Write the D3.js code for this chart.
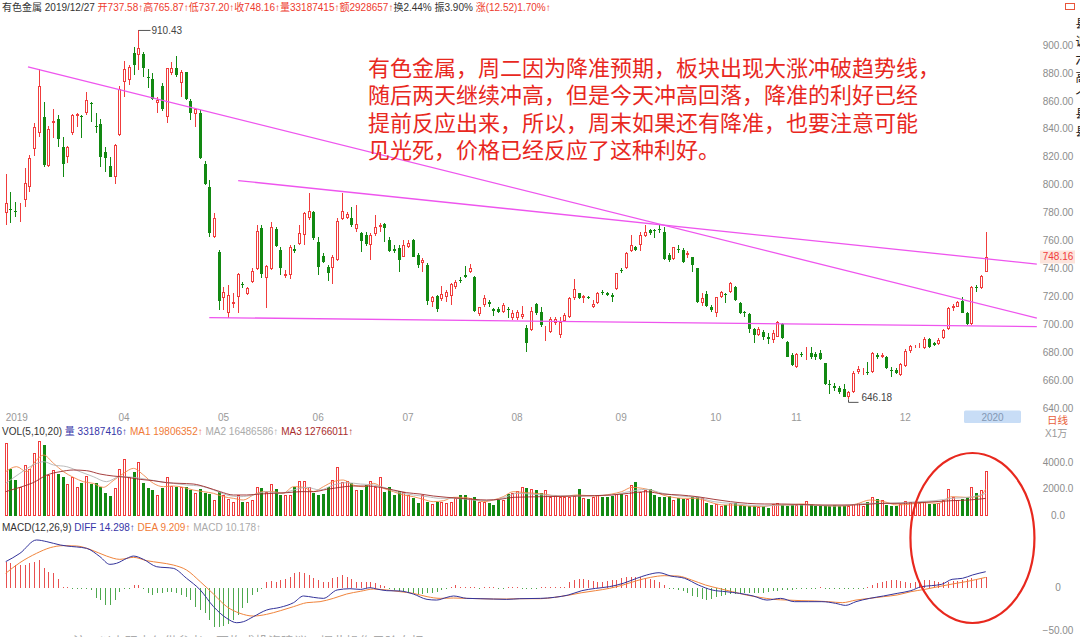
<!DOCTYPE html>
<html><head><meta charset="utf-8">
<script src="https://cdn.jsdelivr.net/npm/d3@7"></script>
<style>body{margin:0;background:#fff}svg{display:block}</style>
</head><body>
<svg id="chart" width="1080" height="637"></svg>
<script>
// ---------------- DATA ----------------
// daily candles [open, high, low, close], 2019-02-25 .. 2019-12-27
const candles = [
[779.9,807.5,771.0,786.5],[782.5,794.9,772.5,781.8],[781.3,787.7,777.0,780.6],[783.9,786.8,773.4,784.6],
[788.9,811.9,784.1,800.9],[798.5,821.2,794.9,818.8],[825.3,844.1,820.5,841.4],[837.2,882.6,834.3,870.8],
[848.6,859.4,812.8,814.0],[813.5,841.9,812.8,839.6],[843.9,853.9,833.1,845.5],[846.9,849.8,827.1,832.6],
[826.7,834.3,805.6,814.7],[820.0,827.6,815.2,827.1],[836.7,850.3,835.5,849.8],[849.1,851.0,841.4,850.3],
[849.1,849.8,833.1,848.6],[851.0,866.5,849.8,860.6],[858.2,858.9,845.0,857.5],[841.9,851.0,836.7,841.4],
[843.4,846.7,812.8,819.5],[823.5,827.1,809.2,818.8],[813.5,820.0,805.2,805.6],[805.2,829.0,800.2,828.1],
[835.5,870.8,834.8,868.5],[873.7,888.8,862.5,882.6],[874.9,885.6,871.3,884.4],[894.0,898.8,878.5,885.6],
[892.8,910.43,882.1,897.6],[893.5,895.2,877.3,883.3],[876.8,882.6,869.0,876.1],[875.4,879.7,860.6,861.3],
[858.2,862.9,851.5,860.6],[870.6,872.5,852.9,853.9],[848.2,883.7,843.9,883.3],[879.7,888.0,878.5,883.3],
[883.3,892.1,876.8,878.5],[873.0,882.1,862.9,880.8],[880.4,880.8,860.6,861.1],[859.9,861.1,846.2,851.0],
[850.5,854.6,841.4,853.9],[851.0,853.4,818.5,818.8],[814.7,817.1,799.7,800.4],[798.5,803.3,762.7,765.5],
[762.2,779.9,762.0,776.3],[751.9,753.1,710.2,716.8],[718.5,726.8,710.2,723.3],[708.2,728.1,704.2,720.9],
[714.5,722.1,711.4,715.7],[719.7,736.4,708.2,735.7],[728.6,730.4,725.7,727.8],[721.6,726.8,720.9,725.7],
[730.4,740.0,729.7,738.3],[739.3,771.0,738.8,767.0],[768.7,771.0,732.9,735.9],[732.9,742.4,711.4,741.7],
[739.3,773.4,738.8,769.4],[768.0,769.8,755.5,756.2],[753.1,755.5,735.2,740.0],[734.7,738.8,732.9,735.7],
[735.2,756.7,732.2,755.1],[753.8,756.7,750.8,752.4],[757.2,771.0,756.7,765.1],[763.9,780.6,756.7,779.4],
[775.8,793.8,774.6,781.3],[780.1,781.3,760.3,761.5],[759.1,762.7,735.2,740.7],[748.8,750.8,743.6,744.7],
[741.2,742.4,731.1,736.4],[740.0,749.5,728.8,747.9],[746.0,775.8,745.5,774.1],[775.1,794.2,774.6,781.3],
[776.3,780.6,775.1,778.7],[775.8,784.1,769.8,771.0],[768.0,785.4,766.2,771.8],[765.5,766.2,751.9,759.6],
[763.9,766.2,756.2,757.4],[756.7,765.1,746.0,763.9],[764.6,778.2,763.2,769.4],[769.4,772.3,766.2,771.0],
[771.8,772.3,759.1,768.7],[760.3,762.2,751.9,752.6],[753.6,756.7,751.2,752.6],[754.3,756.7,737.6,746.0],
[748.3,760.3,747.9,756.7],[755.5,760.3,754.8,757.9],[760.3,760.8,747.9,748.3],[749.5,750.8,740.0,742.4],
[743.6,747.2,737.6,746.0],[742.4,743.6,713.7,716.8],[716.1,720.2,712.5,719.3],[720.2,720.9,708.9,710.7],
[717.8,727.3,716.8,721.6],[719.7,724.5,716.1,723.3],[720.2,729.3,713.7,728.8],[726.4,731.6,725.0,730.4],
[731.6,734.0,729.3,730.7],[735.2,741.7,732.9,733.6],[737.6,743.1,736.9,740.0],[734.0,734.5,708.9,709.7],
[707.3,712.5,705.9,712.1],[713.7,720.9,712.5,718.5],[716.1,717.3,712.5,714.5],[710.7,711.4,705.9,709.7],
[710.7,712.1,707.8,708.7],[708.9,714.9,708.2,713.7],[710.7,712.5,704.2,710.2],[704.2,710.2,703.0,707.8],
[704.2,710.2,703.0,708.9],[704.9,713.0,703.5,707.3],[697.0,699.4,680.3,686.7],[695.8,712.5,695.3,709.4],
[714.5,715.4,706.6,707.8],[708.9,712.5,698.2,699.4],[697.0,698.7,688.2,698.2],[694.6,704.9,693.9,703.5],
[701.1,705.4,699.4,703.5],[692.3,705.4,689.9,701.8],[702.5,707.8,701.8,706.6],[704.9,719.7,704.2,718.5],
[718.5,732.1,717.3,725.0],[722.1,722.5,717.8,718.5],[718.5,720.9,715.4,720.2],[719.7,720.2,717.8,718.5],
[712.1,717.3,711.4,714.5],[714.9,723.3,714.5,722.1],[723.3,724.5,720.9,722.6],[722.1,723.3,720.2,720.9],
[720.9,722.1,716.1,719.3],[725.0,736.9,724.5,736.4],[738.8,740.0,736.4,738.1],[740.0,751.9,739.3,750.8],
[752.6,763.9,751.9,756.7],[755.5,756.0,752.6,753.1],[756.7,766.2,752.6,763.9],[763.2,771.0,762.2,766.2],
[767.5,768.0,763.9,765.1],[767.5,768.0,761.5,766.5],[768.0,771.0,765.5,767.5],[766.2,769.8,746.0,746.5],
[749.5,750.8,744.8,746.0],[746.5,755.5,746.0,755.1],[753.6,756.7,750.8,753.1],[753.1,754.3,743.6,744.7],
[749.5,752.6,747.2,751.2],[747.9,748.3,737.6,742.4],[740.0,740.2,715.4,716.1],[715.4,722.1,713.0,718.5],
[721.6,724.0,712.1,713.0],[712.1,713.7,708.9,710.2],[708.2,719.7,705.4,719.3],[719.7,724.0,718.5,723.3],
[721.6,722.5,715.0,720.9],[723.3,730.4,722.6,729.3],[726.4,727.3,716.8,717.3],[714.9,716.1,707.3,708.2],
[708.9,709.7,705.4,707.8],[707.3,707.8,693.5,696.3],[696.3,697.0,686.3,692.3],[692.3,697.8,691.5,696.3],
[694.6,695.8,688.7,690.6],[691.0,693.5,685.8,689.2],[688.7,695.8,686.7,693.5],[691.0,702.3,690.6,701.8],
[700.1,700.6,689.6,689.9],[687.5,688.2,676.3,676.7],[677.9,679.1,670.0,670.8],[669.6,679.6,668.4,678.6],
[678.6,680.3,676.7,677.9],[679.1,683.9,674.3,680.3],[679.6,683.4,674.8,676.3],[678.6,680.3,674.3,676.3],
[679.6,681.5,674.3,674.8],[672.0,672.4,656.4,657.2],[656.9,660.0,650.0,656.2],[655.9,657.6,652.3,654.5],
[654.1,655.7,650.0,651.6],[653.4,657.1,647.6,648.1],[647.6,652.3,646.18,651.6],[651.6,666.7,650.9,665.3],
[666.0,670.0,664.3,667.7],[665.3,668.6,663.6,666.0],[666.0,673.1,663.6,665.3],[666.0,680.3,665.3,679.1],
[677.9,679.1,674.8,676.3],[676.3,679.6,675.5,677.9],[676.3,677.2,667.7,668.4],[667.2,669.6,662.4,666.5],
[667.2,668.4,664.3,664.8],[663.6,672.0,662.9,671.5],[670.1,682.0,669.6,681.0],[681.0,685.1,679.1,684.4],
[683.9,685.1,682.7,684.4],[684.4,686.5,682.9,685.1],[682.7,690.6,682.0,689.2],[689.2,689.9,682.7,683.9],
[686.3,687.5,684.4,685.1],[685.8,689.9,685.1,688.7],[689.9,696.3,689.2,695.8],[696.3,712.1,695.8,711.4],
[711.4,714.5,709.7,713.0],[712.5,716.8,712.1,716.1],[716.8,719.7,707.8,708.2],[707.8,708.9,699.4,700.1],
[700.1,727.3,699.4,726.4],[726.8,728.1,723.3,726.1],[725.7,735.2,725.2,734.5],[737.58,765.87,737.20,748.16]
];
// volume, unit 万股
const volumes = [
5394,3451,2654,2106,3775,3451,4646,5593,5270,3027,3401,3102,2853,2355,2853,2106,2404,2952,2355,2404,
2155,1657,1458,2031,3451,4198,2853,3276,4024,2454,2081,1906,1533,2031,2853,2205,2155,2106,2155,1906,
1657,1956,1657,1607,1159,1782,1533,1209,1034,1533,1034,1034,1159,2106,2031,1782,2355,1956,1533,1533,
1533,2106,2604,2604,2106,1657,1533,1607,2106,2654,3600,2529,2604,2404,1906,1906,2280,2604,2155,2853,
1782,2106,1533,1857,1782,1533,1284,910,1533,1034,860,1034,1034,960,1034,1284,1533,1533,1284,1358,
1034,1034,910,785,1159,1159,1582,1657,1857,2155,2031,2000,1900,1700,
1906,1408,1533,1408,1358,1408,1458,1956,1333,1209,1358,1533,1358,1358,1458,1582,1607,1533,2280,2529,
1782,1906,1956,1533,1358,1408,1458,1159,1284,1209,1209,1408,1408,1284,910,785,860,711,785,910,
910,785,711,711,711,661,711,536,860,910,785,711,785,785,785,1109,860,711,711,711,
711,785,711,711,711,860,910,711,1034,1358,1209,1159,785,711,711,860,1109,1034,910,910,
1034,860,860,910,1159,1956,1408,1159,1209,1358,2106,1707,1906,3319
];
// volume moving averages [day index, value]
const volMA1 = [[0,3276],[2.3,3650],[4.4,3276],[6.5,4148],[8,4522],[10.1,3899],[12.2,3276],[14.3,2853],[16.4,2529],[18.5,2404],[20.6,2106],[22.7,2604],[24.9,3152],[27,3525],[29.1,3027],[31.2,2404],[33.3,2155],[35.4,2205],[37.5,2106],[39.6,1906],[41.8,1782],[43.9,1657],[46,1408],[48.1,1284],[50.2,1159],[52.3,1533],[54.4,1782],[56.5,1782],[58.6,1657],[60.8,2155],[62.9,2106],[65,1782],[67.1,2155],[69.2,2529],[71.3,2654],[73.4,2280],[75.6,2155],[77.7,2404],[79.8,2031],[81.9,1782],[84,1533],[86.1,1408],[88.2,1209],[90.3,1034],[92.5,1109],[94.6,1358],[96.7,1358],[98.8,1209],[100.9,1034],[103,1159],[105.1,1408],[107.2,1782],[110,1700],[113.6,1607],[117.2,1408],[120.8,1533],[124.4,1458],[128,1607],[130.1,1782],[132.3,2106],[134.5,2031],[136.6,1857],[138.8,1533],[140.9,1358],[143.1,1284],[145.2,1284],[147.4,1159],[149.6,910],[151.7,785],[153.9,785],[156.7,711],[159.6,661],[162.5,785],[165.4,785],[168.2,860],[171.1,785],[174,711],[176.9,711],[179.7,860],[182.6,1159],[185.5,1034],[188.4,785],[191.3,860],[194.1,960],[197,910],[199.9,1408],[202.8,1358],[205.6,1408],[207,1981]];
const volMA2 = [[0,2404],[3,3152],[5.8,3775],[8,4024],[10.1,3775],[12.9,3650],[15.7,3276],[18.5,2903],[21.3,2529],[24.1,2903],[27,2853],[29.8,2703],[32.6,2529],[35.4,2404],[38.2,2280],[41.1,2205],[43.9,1906],[46.7,1533],[49.5,1408],[52.3,1533],[55.1,1782],[58,1657],[60.8,1906],[63.6,2106],[66.4,1906],[69.2,2280],[72,2454],[74.9,2355],[77.7,2280],[80.5,2031],[83.3,1707],[86.1,1533],[89,1408],[91.8,1284],[94.6,1284],[97.4,1209],[100.2,1109],[103,1159],[105.8,1408],[108,1657],[113.6,1533],[120.8,1458],[128,1533],[131.6,1782],[135.2,1956],[138.8,1657],[142.4,1458],[146,1358],[149.6,1034],[153.1,910],[156.7,785],[160.3,711],[163.9,785],[167.5,785],[171.1,785],[174.7,711],[178.3,785],[181.9,910],[185.5,910],[189.1,960],[192.7,1034],[196.3,1109],[199.9,1284],[203.5,1358],[207,1649]];
const volMA3 = [[0,1782],[3,2106],[5.8,2454],[8.7,3027],[11.5,3276],[14.3,3401],[17.1,3351],[19.9,3102],[22.7,2952],[25.6,2853],[28.4,2703],[31.2,2604],[34,2454],[36.8,2404],[39.6,2355],[42.5,2106],[45.3,1782],[48.1,1533],[50.9,1533],[53.7,1607],[56.5,1657],[59.4,1707],[62.2,1782],[65,1782],[67.8,1956],[70.6,2106],[73.4,2205],[76.3,2205],[79.1,2106],[81.9,1906],[84.7,1707],[87.5,1607],[90.3,1458],[93.2,1358],[96,1283],[98.8,1209],[101.6,1159],[104.4,1209],[107.2,1358],[113.6,1408],[120.8,1458],[128,1533],[131.6,1657],[135.2,1782],[138.8,1607],[142.4,1533],[146,1408],[149.6,1209],[153.1,1034],[156.7,910],[160.3,860],[163.9,860],[167.5,835],[171.1,785],[174.7,785],[178.3,785],[181.9,835],[185.5,910],[189.1,910],[192.7,960],[196.3,1034],[199.9,1109],[203.5,1159],[207,1277]];
// MACD lines [day index, value]
const macdDiff = [[0,30.8],[3,40.6],[6.5,56.4],[8.7,54.4],[11.5,50.5],[12.9,49.3],[17.1,46.5],[19.9,36.7],[22,27.6],[23.4,28.8],[25.6,34.7],[27,37.4],[29.1,33.5],[31.9,24.8],[35.4,22.9],[38.2,11.1],[41.1,-2.7],[43.9,-22.4],[46.7,-36.2],[48.8,-41.4],[50.2,-40.2],[52.3,-34.3],[55.1,-26.4],[58,-23.2],[60.8,-17.7],[62.9,-9.8],[65,-11.4],[67.1,-12.6],[70,-2.7],[72.7,-1.2],[74.9,-2.0],[77,0],[78.4,-1.6],[80.5,-3.5],[83.3,-3.9],[86.1,-7.5],[89,-13.8],[91,-14.6],[93.2,-11.4],[94.6,-9.8],[97.4,-12.6],[100.2,-13.0],[103,-13.4],[105.8,-13.8],[108.6,-13.0],[113,-12.6],[115.9,-11.4],[118.8,-8.7],[121.7,-3.5],[124.6,-0.8],[127.5,1.2],[130.4,5.1],[133.3,11.1],[135.4,15.0],[138,17.7],[140.5,13.8],[143.4,11.1],[146.3,3.2],[149.2,-2.7],[152.1,-4.7],[155,-6.7],[157.9,-9.8],[160.8,-14.6],[163.7,-12.6],[166.6,-16.5],[169.5,-16.5],[172.4,-16.5],[175.3,-18.5],[177.4,-20.9],[179.6,-16.5],[182.5,-12.6],[185.4,-9.8],[188.3,-6.7],[191.2,-3.5],[193.4,1.2],[195.5,2.4],[197.7,4.0],[199.9,9.9],[202.1,11.1],[204.2,15.0],[207,18.9]];
const macdDea = [[0,17.0],[3,29.6],[6.5,40.6],[9.4,47.3],[12.2,49.7],[15,49.3],[17.8,45.3],[21.3,37.4],[24.1,33.5],[27,35.9],[29.8,31.9],[32.6,29.6],[35.4,26.8],[38.2,20.9],[41.1,7.1],[43.9,-7.5],[46.7,-22.4],[49.5,-30.3],[52.3,-33.5],[55.1,-31.5],[58,-27.2],[60.8,-22.4],[63.6,-17.7],[66.4,-16.5],[69.2,-12.6],[72,-7.5],[74.9,-4.3],[77.7,-1.6],[80.5,-2.7],[83.3,-4.7],[86.1,-6.7],[89,-10.6],[91.8,-12.6],[94.6,-12.2],[97.4,-12.6],[100.2,-13.0],[103,-13.4],[105.8,-13.4],[108.6,-13.0],[113,-13.0],[115.9,-11.4],[118.8,-9.0],[121.7,-5.9],[124.6,-3.5],[127.5,-0.8],[130.4,3.2],[133.3,8.3],[136.2,12.2],[139.1,14.2],[142,13.8],[144.9,9.1],[147.8,3.2],[150.6,-0.8],[153.5,-4.7],[156.4,-8.6],[159.3,-11.4],[162.2,-13.8],[165.1,-14.6],[168,-15.3],[170.9,-15.7],[173.8,-16.5],[176.7,-17.7],[179.6,-14.6],[182.5,-12.6],[185.4,-10.6],[188.3,-8.6],[191.2,-4.7],[194.1,-2.0],[197,1.2],[199.9,4.3],[202.8,7.1],[207,12.2]];
// MACD histogram per day
const macdHist = [
30.8,29.6,26.8,26.8,26.8,28.8,30.8,32.7,22.9,18.9,17.0,9.9,1.2,
0.6,-0.5,-0.8,-1.2,-1.8,-3,
-12.6,-14.6,-20.5,-20.5,-14.6,-4.7,
-2,-1,3.2,3.2,-1,
-5.9,-8.6,-6.7,-6.7,-4.7,-4.7,-6.7,-8.6,-10.6,-14.6,-22.4,-26.4,-30.3,-38.2,-46.1,-46.9,-45.3,-42.9,-38.2,-32.3,-24.4,-17.7,-8.6,-4.7,-2.0,
7.1,8.3,7.1,9.1,9.9,13.0,17.0,18.9,17.7,15.0,11.1,9.1,7.1,7.1,11.1,13.0,15.0,13.0,9.9,7.1,7.1,7.1,7.1,5.9,3.2,2.0,
-2.0,-2.7,-3.5,-4.7,-4.7,-5.9,-7.5,-7.5,-6.7,-5.9,-4.7,-2.7,-0.8,1.2,2.8,
1.0,0.5,0.8,0.5,-0.5,0.5,0.3,0.5,-0.3,-0.5,0.5,0.8,0.5,-0.5,-0.8,-0.5,-0.3,
0.3,0.5,0.3,0.5,0.8,1.0,
7.1,9.1,9.9,9.9,9.1,8.3,7.1,7.1,7.9,9.1,9.1,11.1,12.2,13.0,12.2,12.2,11.1,9.9,9.1,7.1,3.2,
-0.8,-2.0,-2.7,-3.5,-6.7,-9.8,-11.4,-13.8,-14.6,-13.0,-10.6,-9.8,-8.6,-7.5,-7.5,-7.5,-6.7,-6.7,-6.7,-5.9,-5.9,-4.7,-3.5,-3.5,-2.7,-2.7,-2.7,-2.0,-2.0,-0.8,
-0.5,-0.3,0.3,-0.5,-1.0,-1.5,-2.0,-2.0,-2.0,-2.0,-2.0,-1.2,
1.0,3.2,5.1,7.1,8.3,9.1,9.1,7.9,7.1,5.9,7.1,7.9,9.1,9.1,8.3,7.1,7.1,7.1,7.9,8.3,9.1,9.9,11.1,9.9,11.1,13.0
];
const monthTickIdx = [0,25,46,66,85,108,130,150,167,190];
const monthTickLabels = ["2019","04","05","06","07","08","09","10","11","12"];
const priceTicks = [900,880,860,840,820,800,780,760,740,720,700,680,660,640];
const volTicks = [4000,2000,0];
const macdTicks = [0,-50];
// hand-drawn trend lines [day index, price]
const trendLines = [
  [[4.7,884.4],[217.8,704.4]],
  [[49.1,802.9],[217.8,743.1]],
  [[43,704.8],[217.8,698.3]]
];
const lastClose = 748.16;
const highMark = {i:28, v:910.43};
const lowMark = {i:178, v:646.18};
const headerParts = [["有色金属 2019/12/27 ","#333"],["开737.58↑高765.87↑低737.20↑收748.16↑量33187415↑额2928657↑","#ee3a2e"],["换2.44% 振3.90% ","#333"],["涨(12.52)1.70%↑","#ee3a2e"]];
const volLegend = [["VOL(5,10,20) ","#333"],["量 33187416↑ ","#3636a8"],["MA1 19806352↑ ","#f07a36"],["MA2 16486586↑ ","#aaaaaa"],["MA3 12766011↑","#a82c2c"]];
const macdLegend = [["MACD(12,26,9) ","#333"],["DIFF 14.298↑ ","#3636a8"],["DEA 9.209↑ ","#f07a36"],["MACD 10.178↑","#aaaaaa"]];
const noteLines = ["有色金属，周二因为降准预期，板块出现大涨冲破趋势线，","随后两天继续冲高，但是今天冲高回落，降准的利好已经","提前反应出来，所以，周末如果还有降准，也要注意可能","见光死，价格已经反应了这种利好。"];
const sideGlyphs = ["县","调","六","高","个","县","县"];

// ---------------- DRAW ----------------
const svg = d3.select("#chart");
const FONT = "'Liberation Sans', Arial, 'Noto Sans CJK SC', sans-serif";
const CJK = "'Noto Sans CJK SC', sans-serif";
const RED = "#f03c3c", GREEN = "#128912", PINK = "#ee55ee";
const N = candles.length;
const x = d3.scaleLinear().domain([0, N - 1]).range([5.7, 985.7]);
const yP = d3.scaleLinear().domain([640, 900]).range([408, 45]);
const yV = d3.scaleLinear().domain([0, 4000]).range([515.5, 462]);
const yM = d3.scaleLinear().domain([-50, 0]).range([630, 587.7]);
const isUp = d => d[3] >= d[0];
const cxOf = i => Math.round(x(i));

// header
const ht = svg.append("text").attr("x", 2).attr("y", 11).attr("font-size", 10).attr("font-family", FONT);
ht.selectAll("tspan").data(headerParts).join("tspan").text(d => d[0]).attr("fill", d => d[1]);
svg.append("rect").attr("x", 1065.5).attr("y", 3.5).attr("width", 9).attr("height", 6).attr("fill", "none").attr("stroke", "#e8553a");

// candles
const gC = svg.append("g").attr("shape-rendering", "crispEdges");
const cg = gC.selectAll("g").data(candles).join("g");
cg.append("line")
  .attr("x1", (d, i) => cxOf(i) + 0.5).attr("x2", (d, i) => cxOf(i) + 0.5)
  .attr("y1", d => yP(d[1])).attr("y2", d => yP(d[2]))
  .attr("stroke", d => isUp(d) ? RED : GREEN).attr("stroke-width", 1);
cg.append("rect")
  .attr("x", (d, i) => isUp(d) ? cxOf(i) - 0.5 : cxOf(i) - 1)
  .attr("y", d => { const t = Math.round(yP(Math.max(d[0], d[3]))); return isUp(d) ? t + 0.5 : t; })
  .attr("width", d => isUp(d) ? 2 : 3)
  .attr("height", d => { const t = Math.round(yP(Math.max(d[0], d[3]))), b = Math.round(yP(Math.min(d[0], d[3]))); return isUp(d) ? Math.max(0, b - t - 1) : Math.max(1, b - t); })
  .attr("fill", d => isUp(d) ? "#fff" : GREEN)
  .attr("stroke", d => isUp(d) ? RED : "none");

// trend lines
svg.append("g").selectAll("line").data(trendLines).join("line")
  .attr("x1", d => x(d[0][0])).attr("y1", d => yP(d[0][1]))
  .attr("x2", d => x(d[1][0])).attr("y2", d => yP(d[1][1]))
  .attr("stroke", PINK).attr("stroke-width", 1.3);

// high / low marks
const hx = cxOf(highMark.i) + 0.5, hy = yP(highMark.v);
svg.append("path").attr("d", `M${hx},${hy}H${hx + 12}`).attr("stroke", "#555").attr("fill", "none");
svg.append("text").attr("x", hx + 13).attr("y", hy + 3.5).attr("font-size", 10).attr("font-family", FONT).attr("fill", "#444").text(highMark.v.toFixed(2));
const lx = cxOf(lowMark.i) + 0.5, ly = yP(lowMark.v);
svg.append("path").attr("d", `M${lx},${ly}V${ly + 3}H${lx + 10}`).attr("stroke", "#555").attr("fill", "none");
svg.append("text").attr("x", lx + 13).attr("y", ly + 1.5).attr("font-size", 10).attr("font-family", FONT).attr("fill", "#444").text(lowMark.v.toFixed(2));

// note text
svg.append("g").selectAll("text").data(noteLines).join("text")
  .attr("x", 368).attr("y", (d, i) => 76 + i * 27.3)
  .attr("font-size", 22).attr("font-family", CJK).attr("fill", "#e8281e").text(d => d);

// price axis
const axP = svg.append("g").attr("transform", "translate(1043,0)")
  .call(d3.axisRight(yP).tickValues(priceTicks).tickSize(0).tickPadding(0).tickFormat(d3.format(".2f")));
axP.select(".domain").remove();
axP.selectAll("text").attr("font-size", 10).attr("font-family", FONT).attr("fill", "#8c8c8c").attr("text-anchor", "middle").attr("x", 15);
// last price tag
const ly2 = yP(lastClose);
svg.append("rect").attr("x", 1040).attr("y", ly2 - 6.5).attr("width", 35).attr("height", 13).attr("fill", "#fde4dc");
svg.append("text").attr("x", 1058).attr("y", ly2 + 3.5).attr("text-anchor", "middle").attr("font-size", 10).attr("font-family", FONT).attr("fill", "#f03c3c").text(lastClose.toFixed(2));

// x axis
svg.append("rect").attr("x", 964).attr("y", 410.5).attr("width", 57).attr("height", 12.5).attr("rx", 1.5).attr("fill", "#c8ddf6");
svg.append("text").attr("x", 992.5).attr("y", 420.5).attr("text-anchor", "middle").attr("font-size", 10).attr("font-family", FONT).attr("fill", "#8398b4").text("2020");
svg.append("g").selectAll("text").data(monthTickIdx).join("text")
  .attr("x", d => x(d)).attr("y", 420.5)
  .attr("text-anchor", (d, i) => i === 0 ? "start" : "middle")
  .attr("font-size", 10).attr("font-family", FONT).attr("fill", "#999").text((d, i) => monthTickLabels[i]);
svg.append("text").attr("x", 1047).attr("y", 424).attr("font-size", 10.5).attr("font-family", CJK).attr("fill", "#e8603a").text("日线");
svg.append("text").attr("x", 1045).attr("y", 437).attr("font-size", 10).attr("font-family", FONT).attr("fill", "#999").text("X1万");

// volume legend
const vt = svg.append("text").attr("x", 2).attr("y", 435).attr("font-size", 10).attr("font-family", FONT);
vt.selectAll("tspan").data(volLegend).join("tspan").text(d => d[0]).attr("fill", d => d[1]);

// volume bars
const gV = svg.append("g").attr("shape-rendering", "crispEdges");
const v0 = Math.round(yV(0));
gV.selectAll("rect").data(volumes).join("rect")
  .attr("x", (d, i) => isUp(candles[i]) ? cxOf(i) - 0.5 : cxOf(i) - 1)
  .attr("y", (d, i) => isUp(candles[i]) ? Math.round(yV(d)) + 0.5 : Math.round(yV(d)))
  .attr("width", (d, i) => isUp(candles[i]) ? 2 : 3)
  .attr("height", (d, i) => isUp(candles[i]) ? Math.max(0, v0 - Math.round(yV(d)) - 1) : v0 - Math.round(yV(d)))
  .attr("fill", (d, i) => isUp(candles[i]) ? "#fff" : GREEN)
  .attr("stroke", (d, i) => isUp(candles[i]) ? RED : "none");
const vline = d3.line().x(d => x(d[0])).y(d => yV(d[1])).curve(d3.curveMonotoneX);
[[volMA1, "#f0884a"], [volMA2, "#b4b4b4"], [volMA3, "#9c2a2a"]].forEach(([data, col]) => {
  svg.append("path").attr("d", vline(data)).attr("fill", "none").attr("stroke", col).attr("stroke-width", 0.9);
});
const axV = svg.append("g").attr("transform", "translate(1043,0)")
  .call(d3.axisRight(yV).tickValues(volTicks).tickSize(0).tickPadding(0).tickFormat(d3.format(".1f")));
axV.select(".domain").remove();
axV.selectAll("text").attr("font-size", 10).attr("font-family", FONT).attr("fill", "#8c8c8c").attr("text-anchor", "middle").attr("x", 15);

// MACD legend
const mt = svg.append("text").attr("x", 2).attr("y", 531).attr("font-size", 10).attr("font-family", FONT);
mt.selectAll("tspan").data(macdLegend).join("tspan").text(d => d[0]).attr("fill", d => d[1]);

// MACD histogram
const m0 = yM(0);
svg.append("g").attr("shape-rendering", "crispEdges").selectAll("line").data(macdHist).join("line")
  .attr("x1", (d, i) => cxOf(i) + 0.5).attr("x2", (d, i) => cxOf(i) + 0.5)
  .attr("y1", m0)
  .attr("y2", d => { const y = yM(d); return Math.abs(y - m0) < 1.2 ? m0 + (d >= 0 ? -1.2 : 1.2) : y; })
  .attr("stroke", d => d >= 0 ? "#e85050" : "#4ea84e").attr("stroke-width", 1);
const mline = d3.line().x(d => x(d[0])).y(d => yM(d[1])).curve(d3.curveMonotoneX);
svg.append("path").attr("d", mline(macdDea)).attr("fill", "none").attr("stroke", "#f0843c").attr("stroke-width", 1);
svg.append("path").attr("d", mline(macdDiff)).attr("fill", "none").attr("stroke", "#33339a").attr("stroke-width", 1);
const axM = svg.append("g").attr("transform", "translate(1043,0)")
  .call(d3.axisRight(yM).tickValues(macdTicks).tickSize(0).tickPadding(0).tickFormat(d => d === 0 ? "0" : d3.format(".2f")(d)));
axM.select(".domain").remove();
axM.selectAll("text").attr("font-size", 10).attr("font-family", FONT).attr("fill", "#8c8c8c").attr("text-anchor", "middle").attr("x", 15);

// red ellipse annotation (around the last weeks)
svg.append("ellipse").attr("cx", x(204.2)).attr("cy", 538).attr("rx", 62).attr("ry", 85)
  .attr("fill", "none").attr("stroke", "#e8281e").attr("stroke-width", 2.2);

// clipped sidebar glyphs at right edge
svg.append("g").selectAll("text").data(sideGlyphs).join("text")
  .attr("x", 1075.5).attr("y", (d, i) => 28 + i * 18).attr("font-size", 12).attr("font-family", CJK).attr("fill", "#222").text(d => d);
// clipped bottom text
svg.append("text").attr("x", 73).attr("y", 646).attr("font-size", 13).attr("font-family", CJK).attr("fill", "#aaa").text("注：以上观点仅供参考，不构成投资建议，据此操作风险自担");
</script>
</body></html>
